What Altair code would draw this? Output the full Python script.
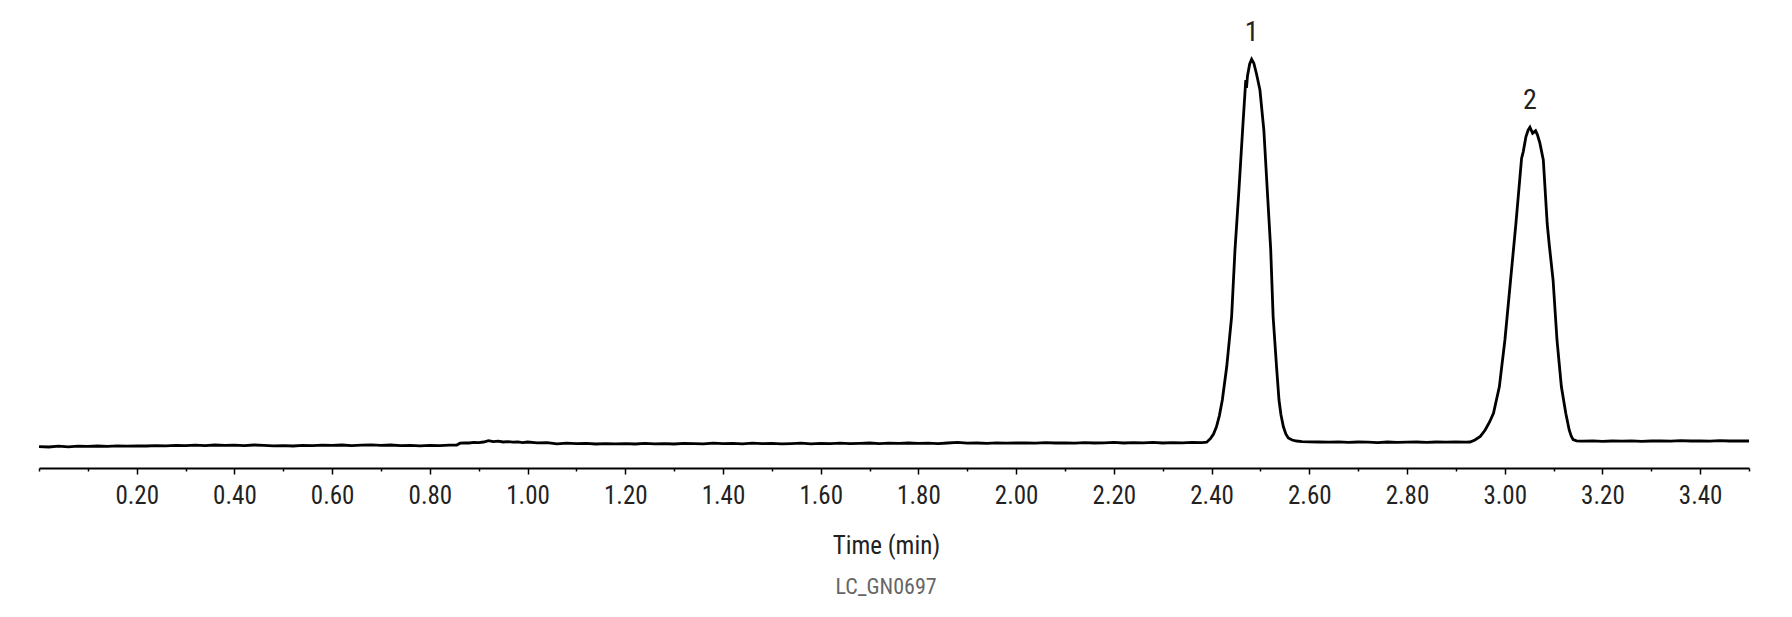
import altair as alt
import pandas as pd

FONT = "Roboto Condensed, DejaVu Sans Condensed, sans-serif"

# --- chromatogram trace (time in min, signal in arbitrary units) ---
base_a_t = [0.00, 0.02, 0.04, 0.06, 0.08, 0.10, 0.12, 0.14, 0.16, 0.18, 0.20, 0.22,
            0.24, 0.26, 0.28, 0.30, 0.32, 0.34, 0.36, 0.38, 0.40, 0.42, 0.44, 0.46,
            0.48, 0.50, 0.52, 0.54, 0.56, 0.58, 0.60, 0.62, 0.64, 0.66, 0.68, 0.70,
            0.72, 0.74, 0.76, 0.78, 0.80, 0.82, 0.84]
base_a_s = [-0.15, -0.25, -0.05, -0.20, -0.05, -0.10, 0.00, -0.10, 0.05, -0.05, 0.05, 0.00,
            0.10, 0.05, 0.15, 0.10, 0.20, 0.10, 0.25, 0.15, 0.20, 0.10, 0.25, 0.15,
            0.05, 0.10, 0.00, 0.15, 0.10, 0.20, 0.15, 0.25, 0.10, 0.20, 0.30, 0.15,
            0.25, 0.10, 0.15, 0.05, 0.15, 0.10, 0.20]

bump_t = [0.855, 0.862, 0.87, 0.88, 0.89, 0.90, 0.91, 0.92, 0.93, 0.94, 0.95, 0.96,
          0.97, 0.98, 0.99, 1.00, 1.02, 1.04, 1.06, 1.08, 1.10, 1.12, 1.14, 1.16, 1.18, 1.20]
bump_s = [0.25, 0.70, 0.80, 0.75, 0.90, 0.85, 1.00, 1.35, 1.10, 1.20, 1.00, 1.10,
          0.95, 1.05, 0.85, 1.00, 0.80, 0.85, 0.55, 0.70, 0.60, 0.65, 0.50, 0.60, 0.55, 0.60]

base_c_t = [1.22, 1.24, 1.26, 1.28, 1.30, 1.32, 1.34, 1.36, 1.38, 1.40, 1.42, 1.44,
            1.46, 1.48, 1.50, 1.52, 1.54, 1.56, 1.58, 1.60, 1.62, 1.64, 1.66, 1.68,
            1.70, 1.72, 1.74, 1.76, 1.78, 1.80, 1.82, 1.84, 1.86, 1.88, 1.90, 1.92,
            1.94, 1.96, 1.98, 2.00, 2.02, 2.04, 2.06, 2.08, 2.10, 2.12, 2.14, 2.16,
            2.18, 2.20, 2.22, 2.24, 2.26, 2.28, 2.30, 2.32, 2.34, 2.36, 2.38]
base_c_s = [0.50, 0.65, 0.55, 0.60, 0.50, 0.65, 0.60, 0.55, 0.70, 0.60, 0.65, 0.55,
            0.70, 0.60, 0.65, 0.55, 0.60, 0.70, 0.55, 0.65, 0.60, 0.70, 0.60, 0.65,
            0.75, 0.60, 0.70, 0.65, 0.75, 0.65, 0.70, 0.60, 0.75, 0.90, 0.70, 0.75,
            0.65, 0.80, 0.70, 0.75, 0.80, 0.70, 0.85, 0.75, 0.80, 0.70, 0.85, 0.75,
            0.80, 0.90, 0.75, 0.85, 0.80, 0.90, 0.75, 0.85, 0.80, 0.90, 0.85]

peak1_t = [2.390, 2.398, 2.404, 2.410, 2.416, 2.422, 2.431, 2.441, 2.448, 2.456,
           2.4635, 2.470, 2.4715, 2.4735, 2.478, 2.482, 2.4865, 2.492, 2.499, 2.507,
           2.514, 2.521, 2.526, 2.533, 2.538, 2.542, 2.547, 2.552, 2.557, 2.565,
           2.574, 2.585]
peak1_s = [0.95, 1.90, 3.00, 4.80, 7.60, 11.5, 19.8, 32.3, 49.2, 64.0,
           79.0, 91.5, 89.5, 92.5, 95.5, 96.7, 95.7, 93.0, 89.0, 79.0,
           64.0, 49.2, 32.3, 19.8, 11.5, 7.80, 4.80, 3.00, 2.00, 1.50,
           1.25, 1.10]

base_d_t = [2.60, 2.62, 2.64, 2.66, 2.68, 2.70, 2.72, 2.74, 2.76, 2.78, 2.80, 2.82,
            2.84, 2.86, 2.88, 2.90, 2.92]
base_d_s = [1.05, 1.00, 0.95, 1.05, 0.90, 1.00, 0.95, 0.85, 1.00, 0.90, 0.95, 1.00,
            0.90, 1.00, 0.95, 1.05, 0.95]

peak2_t = [2.929, 2.939, 2.950, 2.960, 2.969, 2.977, 2.989, 3.0004, 3.012, 3.023,
           3.0345, 3.038, 3.0434, 3.048, 3.0516, 3.0571, 3.0632, 3.067, 3.072,
           3.079, 3.087, 3.091, 3.099, 3.107, 3.116, 3.125, 3.132, 3.136, 3.140,
           3.147, 3.154]
peak2_s = [1.00, 1.50, 2.40, 4.00, 6.00, 8.20, 14.8, 26.5, 41.5, 55.7,
           71.9, 73.6, 77.3, 79.0, 79.7, 78.2, 78.8, 77.8, 75.7,
           71.5, 55.5, 50.5, 41.5, 26.5, 14.8, 8.2, 4.0, 2.5, 1.6,
           1.30, 1.20]

base_e_t = [3.16, 3.18, 3.20, 3.22, 3.24, 3.26, 3.28, 3.30, 3.32, 3.34, 3.36, 3.38,
            3.40, 3.42, 3.44, 3.46, 3.48, 3.50]
base_e_s = [1.20, 1.30, 1.15, 1.25, 1.20, 1.30, 1.15, 1.25, 1.30, 1.20, 1.35, 1.25,
            1.30, 1.20, 1.35, 1.25, 1.30, 1.25]

# --- peak annotations ---
peak_labels = ["1", "2"]
peak_times = [2.482, 3.0516]
peak_heights = [96.7, 79.7]

# --- axis ticks (every 0.05 min; labelled every 0.20 min) ---
tick_values = [round(i * 0.05, 2) for i in range(0, 71)]

time = base_a_t + bump_t + base_c_t + peak1_t + base_d_t + peak2_t + base_e_t
signal = base_a_s + bump_s + base_c_s + peak1_s + base_d_s + peak2_s + base_e_s
trace = pd.DataFrame({"time": time, "signal": signal})
peaks = pd.DataFrame({"label": peak_labels, "time": peak_times, "signal": peak_heights})

major_test = "abs(datum.value*5 - round(datum.value*5)) < 0.001 && datum.value > 0.01"

x_scale = alt.Scale(domain=[0, 3.5], nice=False, zero=False)
y_scale = alt.Scale(domain=[-5.5, 106.5], nice=False, zero=False)

x_axis = alt.Axis(
    values=tick_values,
    labelExpr=f"({major_test}) ? format(datum.value, '.2f') : ''",
    tickSize={"condition": {"test": major_test, "value": 6}, "value": 3},
    tickWidth=1.5,
    tickColor="black",
    domainColor="black",
    domainWidth=2,
    grid=False,
    labelOverlap=False,
    labelFlush=False,
    labelFont=FONT,
    labelFontSize=25,
    labelColor="#222222",
    labelPadding=9,
    title="Time (min)",
    titleFont=FONT,
    titleFontSize=25,
    titleFontWeight="normal",
    titleColor="#222222",
    titlePadding=25.5,
    titleX=847,
)

line = alt.Chart(trace).mark_line(color="black", strokeWidth=2.8).encode(
    x=alt.X("time:Q", scale=x_scale, axis=x_axis),
    y=alt.Y("signal:Q", scale=y_scale, axis=None),
    order="time:Q",
)

labels = alt.Chart(peaks).mark_text(
    font=FONT, fontSize=28, color="#222222", baseline="middle", dy=-26
).encode(
    x=alt.X("time:Q", scale=x_scale),
    y=alt.Y("signal:Q", scale=y_scale),
    text="label:N",
)

chart = (
    alt.layer(line, labels)
    .properties(
        width=1710,
        height=448,
        autosize=alt.AutoSizeParams(type="none"),
        padding={"left": 39, "top": 20, "right": 43, "bottom": 149},
        background="white",
        title=alt.TitleParams(
            text="LC_GN0697",
            orient="bottom",
            anchor="middle",
            font=FONT,
            fontSize=22,
            fontWeight="normal",
            color="#666666",
            offset=18,
            dx=-8,
        ),
    )
    .configure_view(stroke="transparent", strokeWidth=0)
)

chart.save("out.html", embed_options={"renderer": "svg", "actions": False})
